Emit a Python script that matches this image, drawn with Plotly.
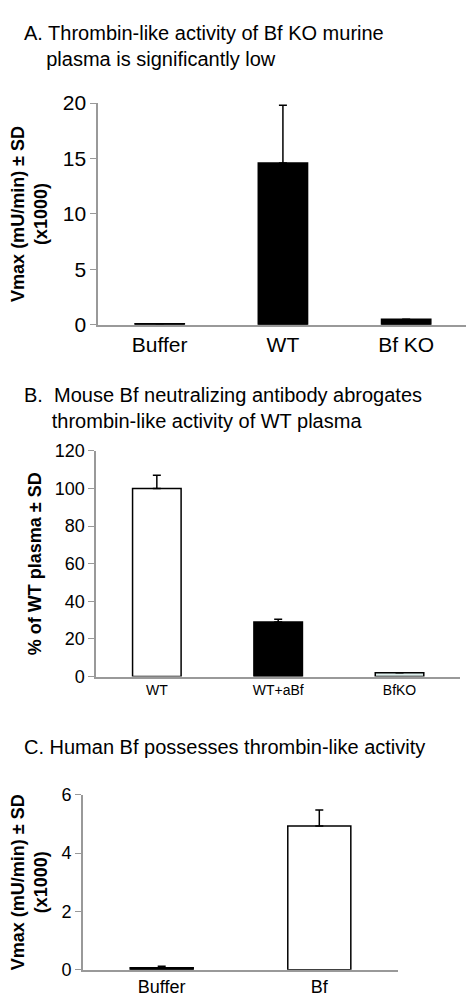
import plotly.graph_objects as go

# panel A
a_cats = ["Buffer", "WT", "Bf KO"]
a_vals = [0.1, 14.6, 0.5]
a_err = [0.0, 5.2, 0.0]
# panel B
b_cats = ["WT", "WT+aBf", "BfKO"]
b_vals = [100, 29, 2]
b_err = [7, 1.5, 0]
# panel C
c_cats = ["Buffer", "Bf"]
c_vals = [0.07, 4.93]
c_err = [0.05, 0.55]

H = 1003
FONT = "Liberation Sans, Arial, sans-serif"

fig = go.Figure()
err_style = dict(type="data", thickness=1.5, width=4, color="black")

fig.add_bar(x=a_cats, y=a_vals, error_y=dict(array=a_err, symmetric=False, arrayminus=[0]*3, **err_style),
            marker=dict(color="black", line=dict(color="black", width=1.5)), width=0.4,
            xaxis="x", yaxis="y")
fig.add_bar(x=b_cats, y=b_vals, error_y=dict(array=b_err, symmetric=False, arrayminus=[0]*3, **err_style),
            marker=dict(color=["white", "black", "#dff0ee"], line=dict(color="black", width=1.5)), width=0.4,
            xaxis="x2", yaxis="y2")
fig.add_bar(x=c_cats, y=c_vals, error_y=dict(array=c_err, symmetric=False, arrayminus=[0]*2, **err_style),
            marker=dict(color=["black", "white"], line=dict(color="black", width=1.5)), width=0.4,
            xaxis="x3", yaxis="y3")

def yd(top, bot):
    return [1 - bot / H, 1 - top / H]

xcommon = dict(showline=True, linecolor="#999", linewidth=1.5, ticks="", showgrid=False)
ycommon = dict(showline=True, linecolor="#999", linewidth=1.5, ticks="outside", ticklen=6,
               tickcolor="#999", showgrid=False, zeroline=False)

fig.update_layout(
    width=474, height=H, margin=dict(l=0, r=0, t=0, b=0),
    paper_bgcolor="white", plot_bgcolor="white", showlegend=False,
    font=dict(family=FONT, color="black"),
    xaxis=dict(domain=[0.19, 0.97], anchor="y", tickfont=dict(size=21), **xcommon),
    yaxis=dict(domain=yd(85, 312), anchor="x", range=[0, 20], dtick=5, tickfont=dict(size=21),
               title=dict(text="<b>Vmax (mU/min) ± SD<br>(x1000)</b>", font=dict(size=18), standoff=10), **ycommon),
    xaxis2=dict(domain=[0.186, 0.954], anchor="y2", tickfont=dict(size=14), **xcommon),
    yaxis2=dict(domain=yd(441, 672), anchor="x2", range=[0, 120], dtick=20, tickfont=dict(size=18),
                title=dict(text="<b>% of WT plasma ± SD</b>", font=dict(size=18), standoff=8), **ycommon),
    xaxis3=dict(domain=[0.158, 0.823], anchor="y3", tickfont=dict(size=18), **xcommon),
    yaxis3=dict(domain=yd(793, 972), anchor="x3", range=[0, 6], dtick=2, tickfont=dict(size=18),
                title=dict(text="<b>Vmax (mU/min) ± SD<br>(x1000)</b>", font=dict(size=18), standoff=10), **ycommon),
)

titles = [
    ("A. Thrombin-like activity of Bf KO murine<br>    plasma is significantly low", 0),
    ("B.  Mouse Bf neutralizing antibody abrogates<br>     thrombin-like activity of WT plasma", 370),
    ("C. Human Bf possesses thrombin-like activity", 731),
]
for txt, top in titles:
    fig.add_annotation(text=txt, xref="paper", yref="paper", x=0.03, y=1 - top / H,
                       xanchor="left", yanchor="top", showarrow=False, align="left",
                       font=dict(size=20, family=FONT))

fig.write_html("out.html")
